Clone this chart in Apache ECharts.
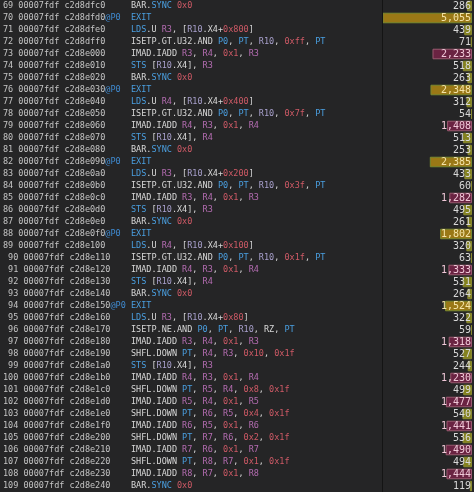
<!DOCTYPE html>
<html><head><meta charset="utf-8">
<script src="https://cdn.jsdelivr.net/npm/echarts@6/dist/echarts.min.js"></script>
<style>html,body{margin:0;padding:0;background:#252526;}#c{width:474px;height:492px;}</style>
</head><body><div id="c"></div>
<script>
const lineNums = [69,70,71,72,73,74,75,76,77,78,79,80,81,82,83,84,85,86,87,88,89,90,91,92,93,94,95,96,97,98,99,100,101,102,103,104,105,106,107,108,109];
const addrs = ["c2d8dfc0","c2d8dfd0","c2d8dfe0","c2d8dff0","c2d8e000","c2d8e010","c2d8e020","c2d8e030","c2d8e040","c2d8e050","c2d8e060","c2d8e070","c2d8e080","c2d8e090","c2d8e0a0","c2d8e0b0","c2d8e0c0","c2d8e0d0","c2d8e0e0","c2d8e0f0","c2d8e100","c2d8e110","c2d8e120","c2d8e130","c2d8e140","c2d8e150","c2d8e160","c2d8e170","c2d8e180","c2d8e190","c2d8e1a0","c2d8e1b0","c2d8e1c0","c2d8e1d0","c2d8e1e0","c2d8e1f0","c2d8e200","c2d8e210","c2d8e220","c2d8e230","c2d8e240"];
const instrs = ["BAR.SYNC 0x0","EXIT","LDS.U R3, [R10.X4+0x800]","ISETP.GT.U32.AND P0, PT, R10, 0xff, PT","IMAD.IADD R3, R4, 0x1, R3","STS [R10.X4], R3","BAR.SYNC 0x0","EXIT","LDS.U R4, [R10.X4+0x400]","ISETP.GT.U32.AND P0, PT, R10, 0x7f, PT","IMAD.IADD R4, R3, 0x1, R4","STS [R10.X4], R4","BAR.SYNC 0x0","EXIT","LDS.U R3, [R10.X4+0x200]","ISETP.GT.U32.AND P0, PT, R10, 0x3f, PT","IMAD.IADD R3, R4, 0x1, R3","STS [R10.X4], R3","BAR.SYNC 0x0","EXIT","LDS.U R4, [R10.X4+0x100]","ISETP.GT.U32.AND P0, PT, R10, 0x1f, PT","IMAD.IADD R4, R3, 0x1, R4","STS [R10.X4], R4","BAR.SYNC 0x0","EXIT","LDS.U R3, [R10.X4+0x80]","ISETP.NE.AND P0, PT, R10, RZ, PT","IMAD.IADD R3, R4, 0x1, R3","SHFL.DOWN PT, R4, R3, 0x10, 0x1f","STS [R10.X4], R3","IMAD.IADD R4, R3, 0x1, R4","SHFL.DOWN PT, R5, R4, 0x8, 0x1f","IMAD.IADD R5, R4, 0x1, R5","SHFL.DOWN PT, R6, R5, 0x4, 0x1f","IMAD.IADD R6, R5, 0x1, R6","SHFL.DOWN PT, R7, R6, 0x2, 0x1f","IMAD.IADD R7, R6, 0x1, R7","SHFL.DOWN PT, R8, R7, 0x1, 0x1f","IMAD.IADD R8, R7, 0x1, R8","BAR.SYNC 0x0"];
const counts = [286,5055,439,71,2233,518,263,2348,312,54,1408,513,253,2385,433,60,1282,495,261,1802,320,63,1333,531,264,1524,322,59,1318,527,244,1230,499,1477,540,1441,536,1490,494,1444,119];

const F = 'DejaVu Sans Mono';
const FS = 8.5;
const rich = {
  g:{color:'#c4c4c4',fontFamily:F,fontSize:FS},
  w:{color:'#d8d8d8',fontFamily:F,fontSize:FS},
  b:{color:'#4a9fe0',fontFamily:F,fontSize:FS},
  h:{color:'#cf5a66',fontFamily:F,fontSize:FS},
  r:{color:'#b36cb0',fontFamily:F,fontSize:FS},
  rl:{color:'#a8a0cc',fontFamily:F,fontSize:FS},
  at:{color:'#3f8ad0',fontFamily:F,fontSize:FS}
};
const NB = '\u00a0';
function tag(k,t){return '{'+k+'|'+t+'}';}
function fmtInstr(s){
  const sp = s.indexOf(' ');
  const op = sp<0 ? s : s.slice(0,sp);
  const rest = sp<0 ? '' : s.slice(sp);
  let out = op.split('.').map(p=>tag(['LDS','STS','EXIT','SYNC'].includes(p)?'b':'w',p)).join(tag('w','.'));
  rest.split(/(\s+|,|\[|\]|\+|\.)/).forEach(t=>{
    if(!t) return;
    let k='w';
    if(/^R\d+$/.test(t)) k = t==='R10'?'rl':'r';
    else if(t==='P0'||t==='PT') k='b';
    else if(/^0x/.test(t)) k='h';
    out += tag(k, t.replace(/ /g,NB));
  });
  return out;
}
function barStyle(i){
  const op = instrs[i].split(' ')[0];
  if(op==='EXIT') return {color:'#9a7816',borderColor:'#7a8a30',lab:'#f4e4a8'};
  if(op.startsWith('IMAD')) return {color:'#6a2342',borderColor:'#9a5a70',lab:'#f0c8d8'};
  return {color:'#84821e',borderColor:'#8a8a30',lab:'#d8d8d8'};
}
const cats = lineNums.map(String);
const data = counts.map((v,i)=>{const s=barStyle(i);return {value:v,itemStyle:{color:s.color,borderColor:s.borderColor,borderWidth:1},label:{color:s.lab}};});

const chart = echarts.init(document.getElementById('c'));
chart.setOption({
  backgroundColor:'#252526',
  animation:false,
  grid:{left:0,right:2,top:0,bottom:0},
  xAxis:{type:'value',inverse:true,min:0,max:26510,show:false},
  yAxis:{type:'category',data:cats,inverse:true,position:'left',
    axisLine:{show:false},axisTick:{show:false},
    axisLabel:{inside:true,interval:0,margin:0,align:'left',rich:rich,
      formatter:(v,i)=>{
        const n = lineNums[i];
        const ln = (n>=90&&n<100)?NB+n:String(n);
        const head = ln+NB+'00007fdf'+NB+addrs[i];
        const pad = 25-head.length;
        const pred = instrs[i]==='EXIT';
        return tag('g',head) + (pred?tag('at','@P0')+tag('g',NB.repeat(pad-3)):tag('g',NB.repeat(pad))) + fmtInstr(instrs[i]);
      }}},
  series:[{type:'bar',data:data,barWidth:'88%',
    label:{show:true,position:'insideRight',distance:1,fontFamily:F,fontSize:10,
      formatter:p=>p.value.toLocaleString('en-US')},
    markLine:{silent:true,symbol:'none',label:{show:false},lineStyle:{color:'#141414',width:1,type:'solid'},data:[{xAxis:5080}]}
  }]
});
</script></body></html>
